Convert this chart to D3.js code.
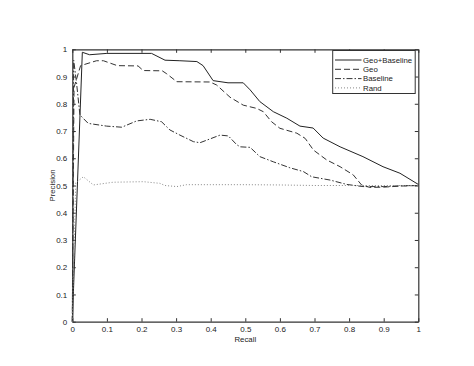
<!DOCTYPE html>
<html><head><meta charset="utf-8">
<script src="https://cdn.jsdelivr.net/npm/d3@7"></script>
<style>body{margin:0;background:#fff}svg{display:block}text{font-family:"Liberation Sans",Arial,sans-serif;fill:#222}</style>
</head><body><div id="c"></div>
<script>
const seriesNames = ["Geo+Baseline","Geo","Baseline","Rand"];
const geoBaseRecall = [0,0.029,0.05,0.1,0.229,0.268,0.311,0.36,0.378,0.407,0.45,0.494,0.514,0.542,0.581,0.62,0.658,0.696,0.725,0.774,0.84,0.898,0.947,1.0];
const geoBasePrec   = [0,0.989,0.98,0.985,0.985,0.96,0.958,0.955,0.94,0.885,0.877,0.877,0.851,0.808,0.771,0.747,0.718,0.711,0.674,0.642,0.606,0.569,0.545,0.504];
const geoRecall = [0,0.005,0.024,0.07,0.09,0.13,0.19,0.205,0.26,0.273,0.302,0.398,0.417,0.456,0.494,0.533,0.552,0.576,0.6,0.649,0.673,0.697,0.735,0.774,0.812,0.836,0.86,0.9,0.95,1.0];
const geoPrec   = [0,0.86,0.94,0.958,0.958,0.94,0.939,0.922,0.921,0.91,0.881,0.88,0.869,0.824,0.795,0.783,0.771,0.734,0.71,0.692,0.673,0.63,0.594,0.569,0.539,0.502,0.493,0.494,0.498,0.5];
const baseRecall = [0,0.004,0.012,0.022,0.046,0.099,0.143,0.186,0.225,0.258,0.282,0.311,0.35,0.369,0.427,0.451,0.475,0.485,0.514,0.542,0.581,0.629,0.668,0.692,0.745,0.793,0.84,0.9,0.95,1.0];
const basePrec   = [0,0.96,0.88,0.759,0.728,0.718,0.714,0.737,0.743,0.734,0.704,0.685,0.661,0.657,0.685,0.682,0.650,0.642,0.64,0.606,0.587,0.565,0.551,0.532,0.52,0.504,0.496,0.496,0.499,0.5];
const randRecall = [0,0.01,0.032,0.061,0.118,0.205,0.253,0.268,0.302,0.33,0.4,0.5,0.6,0.7,0.8,0.9,1.0];
const randPrec   = [0,0.51,0.532,0.502,0.512,0.514,0.508,0.5,0.496,0.503,0.503,0.503,0.502,0.5,0.5,0.5,0.5];
const xTicks = [0,0.1,0.2,0.3,0.4,0.5,0.6,0.7,0.8,0.9,1];
const yTicks = [0,0.1,0.2,0.3,0.4,0.5,0.6,0.7,0.8,0.9,1];

const W=474,H=366;
const m={l:72.3,r:474-418.3,t:49.3,b:366-321.7};
const svg=d3.select("#c").append("svg").attr("width",W).attr("height",H);
const x=d3.scaleLinear().domain([0,1]).range([m.l,W-m.r]);
const y=d3.scaleLinear().domain([0,1]).range([H-m.b,m.t]);
const g=svg.append("g");
const ax="#333";
const fmt=d=>d===0?"0":d===1?"1":d3.format(".1f")(d);
const tl=3.5;
g.append("g").attr("transform",`translate(0,${y(0)})`).call(d3.axisBottom(x).tickValues(xTicks).tickFormat(fmt).tickSizeInner(-tl).tickSizeOuter(0).tickPadding(5));
g.append("g").attr("transform",`translate(0,${y(1)})`).call(d3.axisTop(x).tickValues(xTicks).tickFormat("").tickSizeInner(-tl).tickSizeOuter(0));
g.append("g").attr("transform",`translate(${x(0)},0)`).call(d3.axisLeft(y).tickValues(yTicks).tickFormat(fmt).tickSizeInner(-tl).tickSizeOuter(0).tickPadding(5));
g.append("g").attr("transform",`translate(${x(1)},0)`).call(d3.axisRight(y).tickValues(yTicks).tickFormat("").tickSizeInner(-tl).tickSizeOuter(0));
g.selectAll(".domain").attr("stroke",ax).attr("stroke-width",1.2);
g.selectAll(".tick line").attr("stroke",ax);
g.selectAll(".tick text").attr("font-size",8).attr("fill","#222").attr("font-family","Liberation Sans, Arial, sans-serif");

const mk=(rx,ry)=>rx.map((v,i)=>[v,ry[i]]);
const data=[mk(geoBaseRecall,geoBasePrec),mk(geoRecall,geoPrec),mk(baseRecall,basePrec),mk(randRecall,randPrec)];
const styles=[{c:"#222",d:null,w:1},{c:"#333",d:"6,3",w:1},{c:"#333",d:"6,2,1.5,2",w:1},{c:"#888",d:"1,2",w:1}];
const line=d3.line().x(d=>x(d[0])).y(d=>y(d[1]));
data.forEach((dd,i)=>{
  svg.append("path").datum(dd).attr("d",line).attr("fill","none").attr("stroke",styles[i].c)
   .attr("stroke-width",styles[i].w).attr("stroke-dasharray",styles[i].d);
});
svg.append("text").attr("x",x(0.5)).attr("y",341.7).attr("text-anchor","middle").attr("font-size",7.8).text("Recall");
svg.append("text").attr("transform",`translate(55,${y(0.5)}) rotate(-90)`).attr("text-anchor","middle").attr("font-size",7.8).text("Precision");
const lg=svg.append("g");
lg.append("rect").attr("x",332.7).attr("y",50.5).attr("width",82.5).attr("height",43).attr("fill","#fff").attr("stroke","#333").attr("stroke-width",1);
seriesNames.forEach((n,i)=>{
  const yy=60+i*9.3;
  lg.append("line").attr("x1",335).attr("x2",361.5).attr("y1",yy).attr("y2",yy).attr("stroke",styles[i].c).attr("stroke-width",1).attr("stroke-dasharray",styles[i].d);
  lg.append("text").attr("x",363).attr("y",yy+2.8).attr("font-size",7.8).text(n);
});
</script></body></html>
